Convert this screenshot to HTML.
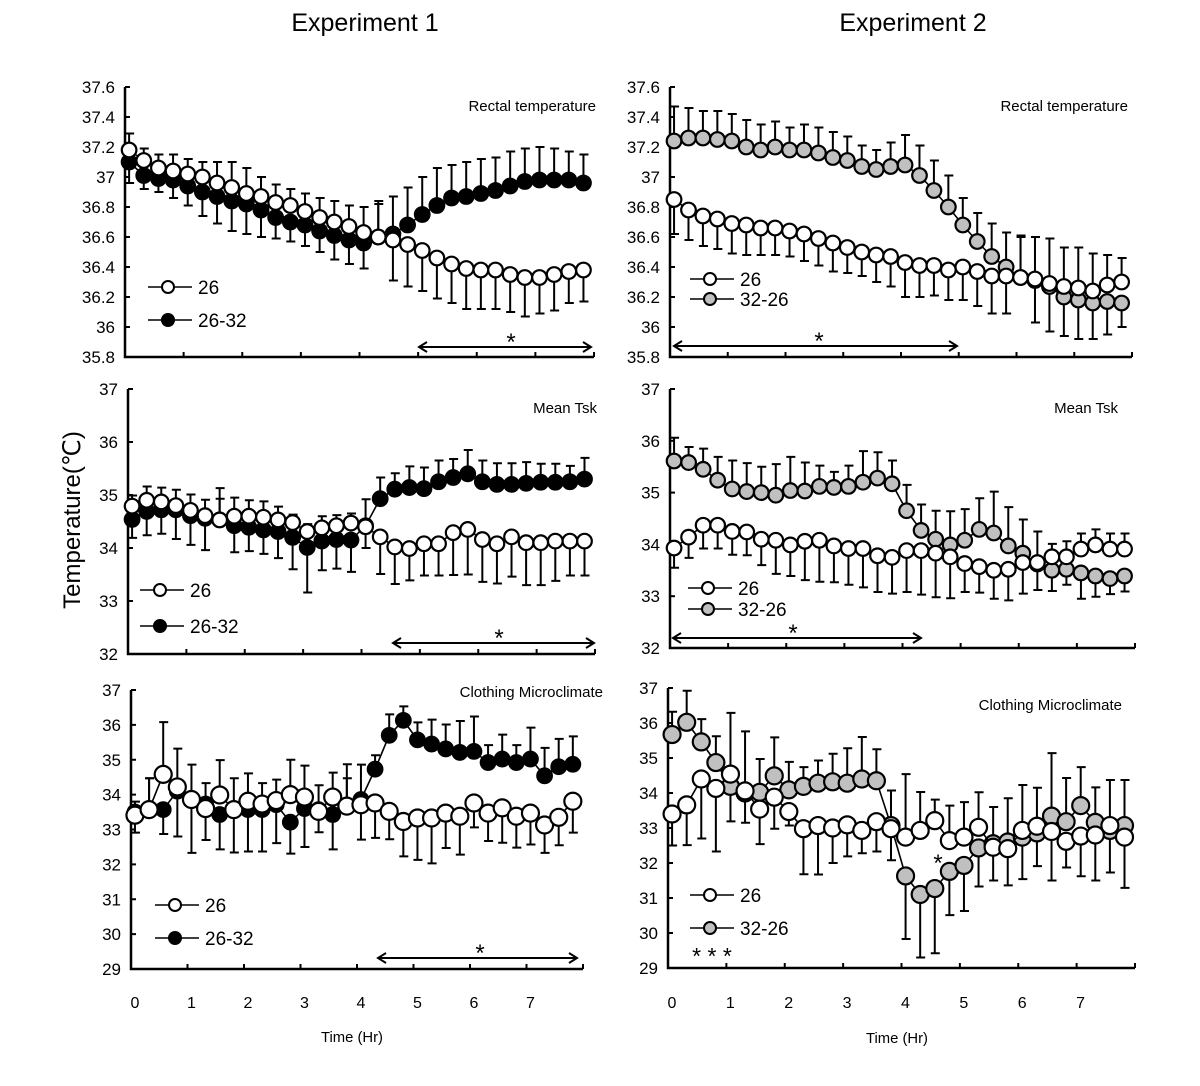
<!DOCTYPE html>
<html><head><meta charset="utf-8">
<style>
html,body{margin:0;padding:0;background:#fff;}
svg{display:block;font-family:"Liberation Sans",Arial,sans-serif;}
</style></head>
<body>
<svg id="chart" width="1200" height="1086" viewBox="0 0 1200 1086" xmlns="http://www.w3.org/2000/svg">
<text x="365" y="31" font-size="25" text-anchor="middle">Experiment 1</text>
<text x="913" y="31" font-size="25" text-anchor="middle">Experiment 2</text>
<text transform="translate(80,520) rotate(-90)" font-size="24" text-anchor="middle">Temperature(℃)</text>
<text x="352" y="1042" font-size="15" text-anchor="middle" textLength="62" lengthAdjust="spacingAndGlyphs">Time (Hr)</text>
<text x="897" y="1043" font-size="15" text-anchor="middle" textLength="62" lengthAdjust="spacingAndGlyphs">Time (Hr)</text>
</svg>
<script>
// ---------- data ----------
const timePoints = [0,0.25,0.5,0.75,1,1.25,1.5,1.75,2,2.25,2.5,2.75,3,3.25,3.5,3.75,4,4.25,4.5,4.75,5,5.25,5.5,5.75,6,6.25,6.5,6.75,7,7.25,7.5,7.75];
const xTickLabels = ["0","1","2","3","4","5","6","7"];
const rectalTicks = ["37.6","37.4","37.2","37","36.8","36.6","36.4","36.2","36","35.8"];
const tskTicks = ["37","36","35","34","33","32"];
const clothTicks = ["37","36","35","34","33","32","31","30","29"];

const e1RectalOpen = [37.18,37.11,37.06,37.04,37.02,37.0,36.96,36.93,36.89,36.87,36.83,36.81,36.77,36.73,36.70,36.67,36.63,36.60,36.58,36.55,36.51,36.46,36.42,36.39,36.38,36.38,36.35,36.33,36.33,36.35,36.37,36.38];
const e1RectalOpenSd = [.11,.08,.09,.11,.1,.1,.14,.17,.17,.13,.12,.11,.12,.13,.14,.14,.17,.22,.27,.28,.27,.27,.26,.27,.26,.26,.25,.26,.24,.24,.21,.21];
const e1RectalFilled = [37.10,37.01,36.99,36.98,36.94,36.90,36.87,36.84,36.82,36.78,36.73,36.70,36.68,36.64,36.61,36.58,36.56,36.60,36.62,36.68,36.75,36.81,36.86,36.87,36.89,36.91,36.94,36.97,36.98,36.98,36.98,36.96];
const e1RectalFilledSd = [.14,.09,.09,.12,.13,.16,.18,.2,.2,.18,.14,.13,.14,.14,.16,.16,.17,.24,.25,.25,.25,.25,.22,.23,.23,.22,.23,.22,.22,.21,.19,.19];

const e2RectalOpen = [36.85,36.78,36.74,36.72,36.69,36.68,36.66,36.66,36.64,36.62,36.59,36.56,36.53,36.50,36.48,36.47,36.43,36.41,36.41,36.38,36.40,36.37,36.34,36.34,36.33,36.32,36.29,36.27,36.26,36.24,36.28,36.30];
const e2RectalOpenSd = [.23,.2,.2,.2,.2,.2,.18,.18,.17,.18,.18,.19,.17,.16,.18,.2,.23,.21,.2,.2,.22,.23,.25,.25,.27,.28,.3,.26,.27,.25,.2,.16];
const e2RectalGray = [37.24,37.26,37.26,37.25,37.24,37.20,37.18,37.20,37.18,37.18,37.16,37.13,37.11,37.07,37.05,37.07,37.08,37.01,36.91,36.80,36.68,36.57,36.47,36.40,36.33,36.31,36.27,36.20,36.18,36.16,36.17,36.16];
const e2RectalGraySd = [.23,.2,.18,.19,.18,.18,.17,.17,.15,.17,.17,.17,.16,.14,.13,.16,.2,.2,.2,.21,.18,.19,.22,.23,.28,.28,.3,.26,.26,.24,.22,.16];

const e1TskOpen = [34.79,34.90,34.87,34.80,34.71,34.61,34.53,34.60,34.60,34.58,34.53,34.48,34.31,34.38,34.42,34.47,34.40,34.21,34.02,33.99,34.08,34.08,34.29,34.35,34.16,34.08,34.21,34.10,34.10,34.13,34.13,34.13];
const e1TskOpenSd = [.2,.26,.27,.3,.3,.3,.4,.35,.3,.3,.25,.15,.14,.22,.2,.18,.4,.7,.7,.6,.6,.6,.8,.85,.8,.75,.75,.8,.8,.75,.65,.65];
const e1TskFilled = [34.54,34.69,34.72,34.72,34.61,34.56,34.53,34.42,34.39,34.34,34.31,34.20,34.01,34.13,34.16,34.15,34.42,34.93,35.11,35.14,35.12,35.25,35.33,35.40,35.25,35.20,35.20,35.22,35.24,35.24,35.25,35.30];
const e1TskFilledSd = [.35,.45,.45,.55,.55,.6,.6,.5,.45,.45,.5,.6,.85,.55,.55,.6,.5,.4,.3,.4,.4,.4,.35,.45,.4,.4,.4,.4,.35,.35,.3,.4];

const e2TskOpen = [33.93,34.14,34.37,34.37,34.25,34.24,34.10,34.08,33.99,34.06,34.08,33.97,33.92,33.92,33.78,33.75,33.88,33.88,33.83,33.76,33.63,33.57,33.50,33.52,33.65,33.65,33.76,33.76,33.91,33.99,33.91,33.91];
const e2TskOpenSd = [.38,.4,.45,.45,.45,.45,.5,.65,.6,.75,.8,.7,.7,.75,.7,.7,.8,.85,.85,.8,.55,.5,.55,.6,.6,.6,.25,.3,.3,.3,.3,.3];
const e2TskGray = [35.61,35.58,35.45,35.24,35.07,35.02,35.00,34.95,35.04,35.03,35.12,35.10,35.12,35.20,35.28,35.17,34.65,34.27,34.10,33.99,34.08,34.29,34.22,33.97,33.83,33.62,33.50,33.52,33.45,33.39,33.34,33.39];
const e2TskGraySd = [.45,.3,.4,.45,.55,.55,.5,.6,.65,.55,.4,.3,.4,.6,.5,.45,.5,.5,.55,.65,.6,.6,.8,.75,.65,.5,.4,.3,.5,.4,.3,.3];

const e1ClothOpen = [33.41,33.57,34.58,34.22,33.86,33.60,33.99,33.57,33.81,33.73,33.83,34.00,33.93,33.52,33.93,33.67,33.71,33.76,33.52,33.23,33.33,33.33,33.47,33.38,33.76,33.47,33.62,33.38,33.47,33.13,33.35,33.81];
const e1ClothOpenSd = [.5,.9,1.5,1.1,1.0,.9,1.0,.9,.8,.6,.6,1.0,.9,.6,.7,.8,1.0,1.0,.8,1.0,1.2,1.3,1.0,1.1,.7,.8,1.0,.9,.9,.8,.8,.9];
const e1ClothFilled = [33.50,33.57,33.57,34.10,33.83,33.73,33.43,33.54,33.57,33.57,33.71,33.21,33.60,33.57,33.43,33.67,33.86,34.73,35.70,36.13,35.57,35.45,35.31,35.21,35.24,34.92,35.02,34.92,35.02,34.54,34.80,34.87];
const e1ClothFilledSd = [.3,.9,.7,1.3,1.5,.6,1.0,1.2,1.2,1.2,1.1,.9,1.1,.7,1.0,1.2,1.0,.4,.6,.4,.5,.7,.7,.9,1.0,.5,.7,.5,.9,.8,.8,.8];

const e2ClothOpen = [33.40,33.66,34.40,34.13,34.54,34.06,33.54,33.88,33.47,32.98,33.07,33.00,33.09,32.93,33.18,32.98,32.74,32.93,33.21,32.64,32.74,33.02,32.45,32.41,32.93,33.05,32.90,32.62,32.77,32.80,33.07,32.74];
const e2ClothOpenSd = [.9,1.15,1.7,1.8,1.75,1.7,1.0,.9,.4,1.3,1.4,1.0,.9,.65,.85,.9,1.8,1.1,.6,1.0,1.0,1.0,.95,1.05,1.3,1.1,1.4,.75,1.15,1.3,1.3,1.45];
const e2ClothGray = [35.67,36.02,35.46,34.87,34.19,34.00,34.02,34.49,34.09,34.19,34.28,34.32,34.28,34.40,34.35,33.07,31.63,31.10,31.27,31.76,31.93,32.43,32.55,32.60,32.74,32.86,33.34,33.18,33.64,33.16,32.93,33.07];
const e2ClothGraySd = [.65,.9,.65,.75,1.0,.85,.95,1.1,.8,.55,.65,.8,1.0,1.2,.9,1.0,1.8,1.8,1.85,1.25,1.3,1.1,1.05,1.25,1.2,.95,1.8,1.25,1.1,1.0,1.2,1.3];

// ---------- layout ----------
const NS = "http://www.w3.org/2000/svg";
const svg = document.getElementById("chart");
function mk(tag, attrs, parent){ const e=document.createElementNS(NS,tag); for(const k in attrs) e.setAttribute(k,attrs[k]); (parent||svg).appendChild(e); return e; }

const panels = [
 {id:"e1-rectal", x0:125,x1:594,y0:87,y1:357,vmax:37.6,vmin:35.8,ticks:rectalTicks,title:"Rectal temperature",tx:596,ty:111,
  a:e1RectalOpen,aSd:e1RectalOpenSd,b:e1RectalFilled,bSd:e1RectalFilledSd,bFill:"#000",r:7.3,rb:7.3,leg:["26","26-32"],lx:148,ly:[287,320],
  sig:[418,592,347],star:[511,341],xl:false},
 {id:"e2-rectal", x0:670,x1:1132,y0:87,y1:357,vmax:37.6,vmin:35.8,ticks:rectalTicks,title:"Rectal temperature",tx:1128,ty:111,
  a:e2RectalOpen,aSd:e2RectalOpenSd,b:e2RectalGray,bSd:e2RectalGraySd,bFill:"#c0c0c0",r:7.3,rb:7.3,leg:["26","32-26"],lx:690,ly:[279,299],
  sig:[673,958,346],star:[819,340],xl:false},
 {id:"e1-tsk", x0:128,x1:595,y0:389,y1:654,vmax:37,vmin:32,ticks:tskTicks,title:"Mean Tsk",tx:597,ty:413,
  a:e1TskOpen,aSd:e1TskOpenSd,b:e1TskFilled,bSd:e1TskFilledSd,bFill:"#000",r:7.3,rb:7.3,leg:["26","26-32"],lx:140,ly:[590,626],
  sig:[392,595,643],star:[499,637],xl:false},
 {id:"e2-tsk", x0:670,x1:1135,y0:389,y1:648,vmax:37,vmin:32,ticks:tskTicks,title:"Mean Tsk",tx:1118,ty:413,
  a:e2TskOpen,aSd:e2TskOpenSd,b:e2TskGray,bSd:e2TskGraySd,bFill:"#c0c0c0",r:7.3,rb:7.3,leg:["26","32-26"],lx:688,ly:[588,609],
  sig:[672,922,638],star:[793,632],xl:false},
 {id:"e1-cloth", x0:131,x1:583,y0:690,y1:969,vmax:37,vmin:29,ticks:clothTicks,title:"Clothing Microclimate",tx:603,ty:697,
  a:e1ClothOpen,aSd:e1ClothOpenSd,b:e1ClothFilled,bSd:e1ClothFilledSd,bFill:"#000",r:8.5,rb:7.3,leg:["26","26-32"],lx:155,ly:[905,938],
  sig:[377,578,958],star:[480,952],xl:true},
 {id:"e2-cloth", x0:668,x1:1135,y0:688,y1:968,vmax:37,vmin:29,ticks:clothTicks,title:"Clothing Microclimate",tx:1122,ty:710,
  a:e2ClothOpen,aSd:e2ClothOpenSd,b:e2ClothGray,bSd:e2ClothGraySd,bFill:"#c0c0c0",r:8.5,rb:8.5,leg:["26","32-26"],lx:690,ly:[895,928],
  sig:null,star:[938,862],xl:true}
];

panels.forEach(p=>{
  const g = mk("g",{});
  
  
  const step = (p.x1-p.x0)/8;
  const xs = t => p.x0 + (0.07 + t)*step;
  const ys = v => p.y0 + (p.vmax - v)/(p.vmax-p.vmin)*(p.y1-p.y0);
  const ax = mk("path",{d:`M${p.x0},${p.y0} L${p.x0},${p.y1} L${p.x1},${p.y1}`,fill:"none",stroke:"#000","stroke-width":2.5},g);
  
  
  for(let k=1;k<=8;k++){ mk("line",{x1:p.x0+k*step,x2:p.x0+k*step,y1:p.y1,y2:p.y1-5,stroke:"#000","stroke-width":2},g); }
  p.ticks.forEach((lab,i)=>{
    const v = parseFloat(lab);
    const y = ys(v);
    mk("line",{x1:p.x0,x2:p.x0+5,y1:y,y2:y,stroke:"#000","stroke-width":2},g);
    const t = mk("text",{x:p.x0-10,y:y+6,"font-size":17,"text-anchor":"end"},g);
    
    
    t.textContent = lab;
  });
  if(p.xl){
    xTickLabels.forEach((lab,k)=>{
      const t = mk("text",{x:p.x0+k*step+4,y:1008,"font-size":16,"text-anchor":"middle"},g);
      
      
      t.textContent = lab;
    });
  }
  const title = mk("text",{x:p.tx,y:p.ty,"font-size":15,"text-anchor":"end"},g);
  
  
  title.textContent = p.title;
  function bars(vals, sds, other, name){
    vals.forEach((v,i)=>{
      const dir = v >= other[i] ? 1 : -1;
      const x = xs(timePoints[i]);
      const yA = ys(v), yB = ys(v + dir*sds[i]);
      const e = mk("path",{d:`M${x},${yA} L${x},${yB} M${x-4},${yB} L${x+5},${yB}`,stroke:"#000","stroke-width":2,fill:"none"},g);
      
      
    });
  }
  bars(p.a,p.aSd,p.b,p.id+'-26');
  bars(p.b,p.bSd,p.a,p.id+'-treat');
  function series(vals, fill, r, name){
    const d = vals.map((v,i)=>(i?'L':'M')+xs(timePoints[i]).toFixed(1)+','+ys(v).toFixed(1)).join(' ');
    const l = mk("path",{d:d,fill:"none",stroke:"#000","stroke-width":1.6},g);
    
    
    vals.forEach((v,i)=>{
      const c = mk("circle",{cx:xs(timePoints[i]),cy:ys(v),r:r,fill:fill,stroke:"#000","stroke-width":2.2},g);
      
      
    });
  }
  series(p.b,p.bFill,p.rb,p.id+'-treat');
  series(p.a,"#fff",p.r,p.id+'-26');
  [["#fff",p.leg[0]],[p.bFill,p.leg[1]]].forEach((it,j)=>{
    const y = p.ly[j];
    const lg = mk("g",{},g);
    
    
    mk("line",{x1:p.lx,x2:p.lx+44,y1:y,y2:y,stroke:"#000","stroke-width":1.6},lg);
    mk("circle",{cx:p.lx+20,cy:y,r:6,fill:it[0],stroke:"#000","stroke-width":2},lg);
    const t = mk("text",{x:p.lx+50,y:y+7,"font-size":19},lg);
    t.textContent = it[1];
  });
  if(p.sig){
    const a = mk("g",{},g);
    
    
    const [s,e,y] = p.sig;
    mk("line",{x1:s+2,x2:e-2,y1:y,y2:y,stroke:"#000","stroke-width":2},a);
    mk("path",{d:`M${s+9},${y-5} L${s+1},${y} L${s+9},${y+5} M${e-9},${y-5} L${e-1},${y} L${e-9},${y+5}`,stroke:"#000","stroke-width":2,fill:"none"},a);
  }
  const st = mk("text",{x:p.star[0],y:p.star[1]+9,"font-size":24,"text-anchor":"middle"},g);
  
  
  st.textContent = "*";
});
const stars = mk("text",{x:712,y:964,"font-size":23,"text-anchor":"middle"});


stars.textContent = "* * *";
</script>
</body></html>
